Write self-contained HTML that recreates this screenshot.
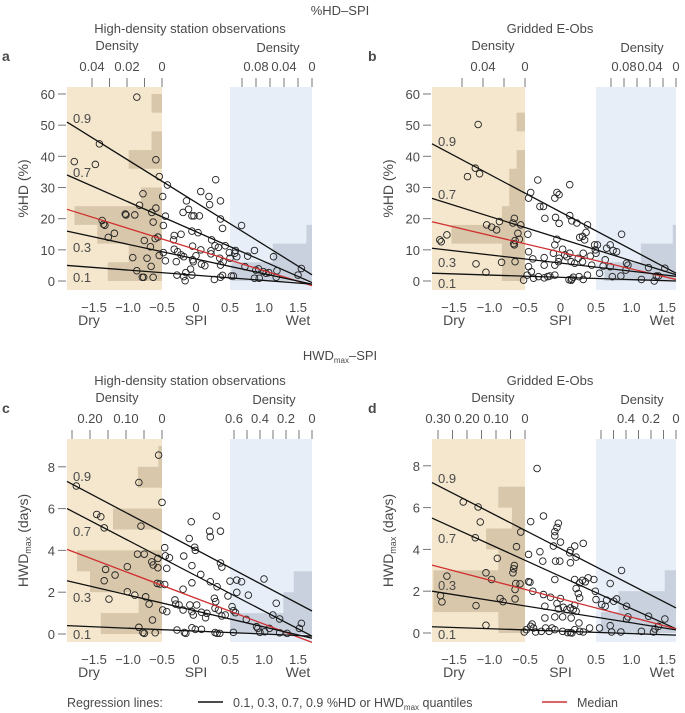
<!DOCTYPE html>
<html><head><meta charset="utf-8">
<style>
body{margin:0;background:#fff;}
svg{display:block;font-family:"Liberation Sans",sans-serif;}
text{fill:#4a4a4a;}
</style></head>
<body>
<svg id="fig" width="685" height="713" viewBox="0 0 685 713" xmlns="http://www.w3.org/2000/svg">
<text x="340" y="15" text-anchor="middle" font-size="13">%HD–SPI</text>
<text x="340" y="360" text-anchor="middle" font-size="13">HWD<tspan font-size="8" dy="3">max</tspan><tspan dy="-3">–SPI</tspan></text>
<g>
<text x="67" y="707" font-size="12.5">Regression lines:</text>
<line x1="198" y1="702" x2="223" y2="702" stroke="#111" stroke-width="1.4"/>
<text x="233" y="707" font-size="12.5">0.1, 0.3, 0.7, 0.9 %HD or HWD<tspan font-size="8" dy="3">max</tspan><tspan dy="-3"> quantiles</tspan></text>
<line x1="542" y1="702" x2="567" y2="702" stroke="#d03030" stroke-width="1.4"/>
<text x="577" y="707" font-size="12.5">Median</text>
</g>
</svg>
<script>
// ---------- DATA ----------
const quantileNames = ["0.9","0.7","0.5","0.3","0.1"];
const linesA = [[51,2],[34,-0.5],[23,-1.5],[16,-1],[5,-1]];
const linesB = [[44,2.5],[26.5,2],[19,0.5],[10.5,1.5],[2.5,0]];
const linesC = [[7.3,1.1],[6,-0.1],[4.05,-0.4],[2.55,-0.2],[0.4,-0.1]];
const linesD = [[7.2,1.2],[5.5,0.2],[3.25,0.2],[2.0,0.15],[0.3,-0.1]];
const dryHistA = [[54,60,0.006],[42,48,0.006],[36,42,0.019],[24,30,0.012],[18,24,0.05],[12,18,0.037],[6,12,0.019],[0,6,0.031]];
const wetHistA = [[0,6,0.115],[6,12,0.056],[12,18,0.008]];
const dryHistB = [[48,54,0.008],[36,42,0.008],[30,36,0.015],[24,30,0.015],[18,24,0.022],[12,18,0.07],[6,12,0.022],[0,6,0.022]];
const wetHistB = [[0,6,0.11],[6,12,0.054],[12,18,0.005]];
const dryHistC = [[8,9,0.01],[7,8,0.067],[5,6,0.136],[3,4,0.236],[2,3,0.2],[1,2,0.065],[0,1,0.17]];
const wetHistC = [[0,1,0.63],[1,2,0.22],[2,3,0.14]];
const dryHistD = [[6,7,0.092],[5,6,0.045],[4,5,0.134],[3,4,0.092],[2,3,0.316],[1,2,0.316],[0,1,0.092]];
const wetHistD = [[0,1,0.6],[1,2,0.46],[2,3,0.09]];
const pointsA = [[-0.87,59],[-1.42,44],[-1.79,38.3],[-1.48,37.4],[-0.59,38.9],[-0.54,33.5],[-0.42,30.8],[-0.49,27.1],[-0.78,28],[-0.83,24.3],[-0.59,23.4],[-0.65,22],[-1.04,21.5],[-1.03,21.2],[-0.9,21.2],[-0.45,20.8],[-0.63,18.9],[-0.48,17.8],[-1.38,19.4],[-1.36,18.2],[-1.34,17.9],[-1.2,15.3],[-1.29,14],[-0.6,13.6],[-0.56,14.1],[-0.76,13],[-0.67,11],[-0.93,7.5],[-0.72,7.3],[-0.66,4.7],[-0.87,3.3],[-0.79,1.2],[-0.77,1.2],[-0.63,1.2],[-0.54,8.2],[-0.48,9.1],[-0.45,6.5],[0.29,32.5],[0.07,28.7],[0.19,27.1],[0.36,25.7],[-0.14,25.7],[0.2,24.5],[-0.11,23],[-0.19,22],[-0.06,20.9],[-0.03,20.9],[0.05,20.9],[0.36,19.9],[0.39,16.9],[0.67,17.8],[0.03,15.5],[-0.06,16],[-0.22,15],[-0.32,14.6],[-0.33,13.2],[0.23,13.2],[-0.05,11.2],[0.28,11.3],[0.33,10.8],[0.43,11.3],[0.07,10],[-0.32,10.2],[-0.27,9.4],[-0.22,8.4],[-0.18,7.8],[-0.29,6.2],[-0.05,6.8],[-0.04,6.2],[0,8.1],[0.08,5.4],[0.13,4.9],[0.22,8.7],[0.36,5.1],[0.4,6.2],[0.35,7.3],[0.49,9.1],[0.57,8.9],[0.6,7.8],[0.5,7.3],[0.58,9.8],[0.76,8],[0.86,9.8],[0.72,4.6],[0.88,3.5],[0.92,3.9],[0.99,3],[1.03,2.5],[0.93,0.9],[0.86,0.9],[1.14,7.8],[1.19,3.3],[1.18,1.2],[1.07,2.7],[1.5,1.9],[1.55,4],[-0.28,1.9],[-0.15,2.7],[-0.06,1.9],[-0.16,0.1],[-0.18,1.4],[0.27,0.5],[0.36,1.2],[0.39,1.8],[0.52,1.6],[0.55,1.6],[-0.08,3.8],[0.22,9.7]];
const pointsB = [[-1.16,50.2],[-1.2,36.2],[-1.14,34.4],[-1.31,33.5],[-0.32,32.4],[0.13,30.9],[-0.42,28.4],[-0.45,26.6],[-0.05,28.4],[-0.02,27.7],[-0.08,26.6],[-0.29,23.9],[-0.24,23.9],[0.13,21],[0.23,18.6],[0.16,19.3],[-0.02,18.5],[-0.22,20.1],[-0.07,20.4],[-0.65,20.1],[-0.67,18.6],[-0.86,19.1],[-1.04,18],[-0.97,17.3],[-0.9,16.4],[-0.56,18],[-0.6,15.3],[-0.64,13],[-0.66,12],[-0.58,13.4],[-0.65,11.6],[-0.46,15],[-1.6,14.8],[-1.7,13.2],[-1.68,12.6],[-1.19,5.5],[-1.05,2.8],[-0.83,6],[-0.64,6.2],[-0.45,9.4],[-0.39,7.1],[-0.23,7.5],[-0.1,8.9],[-0.08,11.6],[-0.05,13.4],[0.03,10.2],[-0.02,7.3],[0.06,8.4],[0.09,7.8],[0.13,8.9],[0.15,6.2],[0.2,5.7],[0.25,7.3],[0.32,8.9],[0.27,14],[0.31,14.3],[0.36,15.6],[0.38,18],[0.34,13.2],[0.48,11.6],[0.52,11.6],[0.5,8.9],[0.42,8],[0.49,10],[0.44,5.1],[0.31,6.2],[-0.23,5.1],[-0.08,5.1],[-0.03,6.2],[-0.45,4.6],[-0.41,3],[-0.47,1.9],[-0.52,0.3],[-0.38,0.9],[-0.31,1.4],[-0.23,1],[-0.18,1.4],[-0.15,1.6],[-0.08,1.9],[0.12,0.4],[0.15,0.2],[0.16,0.6],[0.18,1.2],[0.26,1.4],[0.32,0.5],[0.38,1.9],[0.55,2.5],[0.6,4.8],[0.63,6.8],[0.65,10.5],[0.7,11.6],[0.74,9.8],[0.79,9.4],[0.7,4.6],[0.73,1.4],[0.85,1.6],[0.86,15],[0.93,5.7],[0.95,5.1],[0.92,3.5],[1.24,4.3],[1.14,0.5],[1.35,1.6],[1.38,1.6],[1.32,0],[1.47,4.1]];
const pointsC = [[-1.76,7.08],[-0.55,8.56],[-0.84,7.25],[-0.5,6.3],[-1.46,5.72],[-1.4,5.61],[-1.35,5.08],[-0.81,5.16],[-0.07,5.37],[0.3,5.64],[0.2,4.92],[0.21,4.65],[0.36,4.92],[-0.1,4.57],[-0.46,4.13],[-0.02,4.15],[-0.01,4.0],[-0.45,3.74],[-0.39,3.65],[-0.18,3.73],[-0.43,3.14],[0.07,2.85],[-0.06,3.27],[0.36,3.4],[0.38,3.2],[0.31,2.26],[0.5,2.53],[0.6,2.58],[0.67,2.5],[1,2.63],[0.6,1.99],[0.77,1.86],[0.21,2.5],[-0.06,2.45],[-0.19,2.14],[-0.56,3.17],[-0.56,3.62],[-0.65,3.45],[-0.63,3.3],[-0.86,3.82],[-0.76,3.82],[-1.01,3.22],[-1.33,3.09],[-1.19,2.82],[-1.35,2.55],[-0.57,2.42],[-0.53,2.39],[-0.46,2.37],[-1.01,2.02],[-0.9,1.86],[-0.74,1.78],[-1.28,1.67],[-0.69,1.43],[-0.49,1.15],[-0.43,1.07],[-0.31,1.63],[-0.3,1.43],[-0.25,1.39],[-0.19,1.15],[-0.09,1.39],[-0.06,1.07],[-0.04,0.91],[0.01,1.39],[0.08,1.04],[0.14,0.78],[0.16,0.99],[0.27,1.71],[0.29,1.55],[0.28,1.23],[0.33,1.15],[0.38,0.86],[0.43,0.91],[0.47,1.82],[0.53,1.31],[0.55,1.12],[0.58,1.02],[0.74,0.7],[1.13,0.91],[1.18,1.47],[1.23,0.72],[1.55,0.51],[1.52,0.27],[-0.64,0.67],[-0.84,0.32],[-0.78,0.07],[-0.76,0.03],[-0.6,0.06],[-0.28,0.19],[-0.17,0.07],[-0.15,0.03],[-0.06,0.3],[-0.01,0.22],[0.08,0.22],[0.28,0.07],[0.31,0.03],[0.35,0.03],[0.55,0.08],[0.89,0.35],[0.91,0.27],[0.94,0.08],[1.01,0.11],[1.08,0.27],[1.23,0.06],[1.34,0.03]];
const pointsD = [[-0.33,7.87],[-1.37,6.27],[-1.16,6.03],[-1.13,5.31],[-1.2,4.56],[-0.24,5.6],[-0.42,5.33],[-0.03,5.25],[-0.05,5.05],[-0.08,4.85],[-0.08,4.65],[-0.56,4.83],[-0.1,4.16],[0,4.35],[0.2,4.16],[0.32,4.29],[0.14,3.95],[0.13,3.84],[0.14,3.36],[0.22,3.63],[-0.29,3.89],[-0.45,3.76],[-0.62,4.13],[-0.89,3.57],[-0.07,3.44],[-0.01,3.44],[-0.25,3.44],[-0.65,3.23],[-0.66,3.07],[-0.67,2.88],[-0.63,2.37],[-0.64,2.08],[-0.64,1.63],[-0.57,2.35],[-1.05,2.88],[-0.97,2.56],[-1.6,2.72],[-1.69,1.79],[-1.67,1.49],[-1.19,1.31],[-0.85,1.65],[-0.81,1.5],[-1.05,0.37],[-0.45,2.46],[-0.43,2.43],[-0.39,2.0],[-0.08,2.56],[0.2,2.56],[0.27,2.4],[0.31,2.52],[0.35,2.45],[0.39,2.64],[0.47,2.56],[0.49,2.0],[0.5,1.6],[0.22,2.13],[0.25,1.89],[0.27,1.68],[-0.24,1.84],[-0.14,1.71],[0,1.65],[-0.05,1.41],[-0.03,1.15],[0.04,1.23],[0.09,1.12],[0.14,1.2],[0.18,1.12],[0.2,1.33],[0.22,1.04],[-0.22,1.28],[-0.22,0.72],[-0.08,0.77],[0.03,0.77],[0.15,0.72],[0.26,0.48],[0.58,1.36],[0.63,1.28],[0.65,1.57],[0.7,2.37],[0.75,1.52],[0.79,1.63],[0.86,2.99],[0.93,1.28],[0.95,0.77],[0.93,0.67],[1.24,0.8],[1.47,0.67],[1.38,0.32],[-0.4,0.43],[-0.42,0.32],[-0.38,0.24],[-0.51,0.05],[-0.48,0.16],[-0.35,0.05],[-0.27,0.08],[-0.21,0.24],[-0.16,0.08],[-0.12,0.24],[-0.08,0.16],[0.03,0.08],[0.1,0.02],[0.14,0.02],[0.16,0],[0.2,0.16],[0.27,0.08],[0.32,0.05],[0.41,0.24],[0.55,0.24],[0.7,0.35],[0.72,0.05],[0.85,0.05],[1.14,0.08],[1.31,0.05],[1.33,0.19]];
const xTickValues = [-1.5,-1.0,-0.5,0,0.5,1.0,1.5];
const xTickLabels = ["\u22121.5","\u22121.0","\u22120.5","0","0.5","1.0","1.5"];
const yTicksHD = [0,10,20,30,40,50,60];
const yTicksHWD = [0,2,4,6,8];
const dryTicksA = [0,0.01,0.02,0.03,0.04], dryLabA = [[0,"0"],[0.02,"0.02"],[0.04,"0.04"]];
const wetTicksA = [0,0.02,0.04,0.06,0.08,0.1], wetLabA = [[0,"0"],[0.04,"0.04"],[0.08,"0.08"]];
const dryTicksB = [0,0.02,0.04,0.06], dryLabB = [[0,"0"],[0.04,"0.04"]];
const wetTicksB = [0,0.02,0.04,0.06,0.08,0.1], wetLabB = [[0,"0"],[0.04,"0.04"],[0.08,"0.08"]];
const dryTicksC = [0,0.05,0.1,0.15,0.2,0.25], dryLabC = [[0,"0"],[0.1,"0.10"],[0.2,"0.20"]];
const wetTicksC = [0,0.1,0.2,0.3,0.4,0.5,0.6], wetLabC = [[0,"0"],[0.2,"0.2"],[0.4,"0.4"],[0.6,"0.6"]];
const dryTicksD = [0,0.05,0.1,0.15,0.2,0.25,0.3], dryLabD = [[0,"0"],[0.1,"0.10"],[0.2,"0.20"],[0.3,"0.30"]];
const wetTicksD = [0,0.1,0.2,0.3,0.4,0.5,0.6], wetLabD = [[0,"0"],[0.2,"0.2"],[0.4,"0.4"]];

// ---------- DRAW ----------
const NS = "http://www.w3.org/2000/svg";
const svg = document.getElementById("fig");
function mk(tag, attrs, parent){ const e=document.createElementNS(NS,tag); for(const k in attrs) e.setAttribute(k,attrs[k]); (parent||svg).appendChild(e); return e; }
function txt(x,y,s,size,anchor,parent){ const t=mk("text",{x:x,y:y,"font-size":size,"text-anchor":anchor||"middle"},parent); t.textContent=s; return t; }

function panel(cfg){
  const g = mk("g",{});
  
  
  const X = v => cfg.x0 + v*cfg.kx;
  const Y = v => cfg.y0 - v*cfg.ky;
  const [L,T,R,B] = cfg.box;
  const xL = (L-cfg.x0)/cfg.kx, xR = (R-cfg.x0)/cfg.kx;
  const dryEdge = X(-0.5), wetEdge = X(0.5);
  let r = mk("rect",{x:L,y:T,width:dryEdge-L,height:B-T,fill:"#f4e7cd"},g);
  
  
  r = mk("rect",{x:wetEdge,y:T,width:R-wetEdge,height:B-T,fill:"#e7eef8"},g);
  
  
  cfg.dryHist.forEach(h=>{
    const w = h[2]*cfg.dryK;
    const e = mk("rect",{x:dryEdge-w,y:Y(h[1]),width:w,height:Y(h[0])-Y(h[1]),fill:"#b5a080","fill-opacity":"0.45"},g);
    
    
  });
  cfg.wetHist.forEach(h=>{
    const w = h[2]*cfg.wetK;
    const e = mk("rect",{x:R-w,y:Y(h[1]),width:w,height:Y(h[0])-Y(h[1]),fill:"#9aa6b4","fill-opacity":"0.4"},g);
    
    
  });
  cfg.yTicks.forEach(v=>{
    const l = mk("line",{x1:L-9,x2:L-1,y1:Y(v),y2:Y(v),stroke:"#777","stroke-width":1},g);
    
    
    const t = txt(L-12,Y(v)+5,String(v),13,"end",g);
    
    
  });
  xTickValues.forEach((v,i)=>{
    const t = txt(X(v),B+22,xTickLabels[i],13,"middle",g);
    
    
  });
  const tt = T-9;
  cfg.dryTicks.forEach(v=>{
    const l = mk("line",{x1:dryEdge-v*cfg.dryK,x2:dryEdge-v*cfg.dryK,y1:tt,y2:T,stroke:"#777"},g);
    
    
  });
  cfg.dryLab.forEach(p=>{
    const t = txt(dryEdge-p[0]*cfg.dryK,T-16,p[1],13,"middle",g);
    
    
  });
  cfg.wetTicks.forEach(v=>{
    const l = mk("line",{x1:R-v*cfg.wetK,x2:R-v*cfg.wetK,y1:tt,y2:T,stroke:"#777"},g);
    
    
  });
  cfg.wetLab.forEach(p=>{
    const t = txt(R-p[0]*cfg.wetK,T-16,p[1],13,"middle",g);
    
    
  });
  cfg.points.forEach(p=>{
    const c = mk("circle",{cx:X(p[0]),cy:Y(p[1]),r:3.3,fill:"none",stroke:"#222","stroke-width":0.9},g);
    
    
  });
  cfg.lines.forEach((ln,i)=>{
    const red = quantileNames[i]==="0.5";
    const e = mk("line",{x1:X(xL),y1:Y(ln[0]),x2:X(xR),y2:Y(ln[1]),stroke:red?"#d03030":"#111","stroke-width":1.3},g);
    
    
  });
  cfg.qLabels.forEach(q=>{
    const t = txt(L+6,q[1]+5,q[0],13,"start",g);
    
    
  });
  let t = txt(cfg.titleX,T-54,cfg.title,13,"middle",g);
  
  
  t = txt(cfg.dryDensX,T-37,"Density",13,"middle",g);
  
  
  t = txt(cfg.wetDensX,T-35,"Density",13,"middle",g);
  
  
  t = txt(cfg.letterX,T-26,cfg.id,14,"start",g);
  t.setAttribute('font-weight','bold');
  t.setAttribute('fill','#111');
  
  
  t = txt(L+22,B+35,"Dry",14,"middle",g);
  
  
  t = txt(X(0),B+35,"SPI",14,"middle",g);
  
  
  t = txt(R-14,B+35,"Wet",14,"middle",g);
  
  
  const yt = mk("text",{x:0,y:0,"font-size":14,"text-anchor":"middle",transform:`translate(${L-39},${(T+B)/2}) rotate(-90)`},g);
  yt.innerHTML = cfg.yTitle;
  
  
}

panel({id:"a",box:[67,87,312,290],x0:196,kx:68,y0:281,ky:3.117,dryK:1750,wetK:700,
  dryHist:dryHistA,wetHist:wetHistA,yTicks:yTicksHD,dryTicks:dryTicksA,dryLab:dryLabA,wetTicks:wetTicksA,wetLab:wetLabA,
  points:pointsA,lines:linesA,qLabels:[["0.9",118],["0.7",172],["0.3",247],["0.1",277]],
  title:"High-density station observations",titleX:190,dryDensX:117,wetDensX:278,letterX:2,yTitle:"%HD (%)"});
panel({id:"b",box:[432,87,676,290],x0:560.5,kx:71,y0:281,ky:3.117,dryK:1050,wetK:650,
  dryHist:dryHistB,wetHist:wetHistB,yTicks:yTicksHD,dryTicks:dryTicksB,dryLab:dryLabB,wetTicks:wetTicksB,wetLab:wetLabB,
  points:pointsB,lines:linesB,qLabels:[["0.9",141],["0.7",194],["0.3",262],["0.1",283]],
  title:"Gridded E-Obs",titleX:550,dryDensX:493,wetDensX:642,letterX:368,yTitle:"%HD (%)"});
panel({id:"c",box:[67,439,312,642],x0:196,kx:68,y0:634,ky:20.9,dryK:360,wetK:130,
  dryHist:dryHistC,wetHist:wetHistC,yTicks:yTicksHWD,dryTicks:dryTicksC,dryLab:dryLabC,wetTicks:wetTicksC,wetLab:wetLabC,
  points:pointsC,lines:linesC,qLabels:[["0.9",476],["0.7",531],["0.3",597],["0.1",634]],
  title:"High-density station observations",titleX:190,dryDensX:117,wetDensX:274,letterX:2,
  yTitle:'HWD<tspan font-size="9" dy="3">max</tspan><tspan dy="-3"> (days)</tspan>'});
panel({id:"d",box:[432,439,676,642],x0:560.5,kx:71,y0:633,ky:20.9,dryK:290,wetK:125,
  dryHist:dryHistD,wetHist:wetHistD,yTicks:yTicksHWD,dryTicks:dryTicksD,dryLab:dryLabD,wetTicks:wetTicksD,wetLab:wetLabD,
  points:pointsD,lines:linesD,qLabels:[["0.9",478],["0.7",538],["0.3",585],["0.1",634]],
  title:"Gridded E-Obs",titleX:550,dryDensX:493,wetDensX:642,letterX:368,
  yTitle:'HWD<tspan font-size="9" dy="3">max</tspan><tspan dy="-3"> (days)</tspan>'});
</script>
</body></html>
